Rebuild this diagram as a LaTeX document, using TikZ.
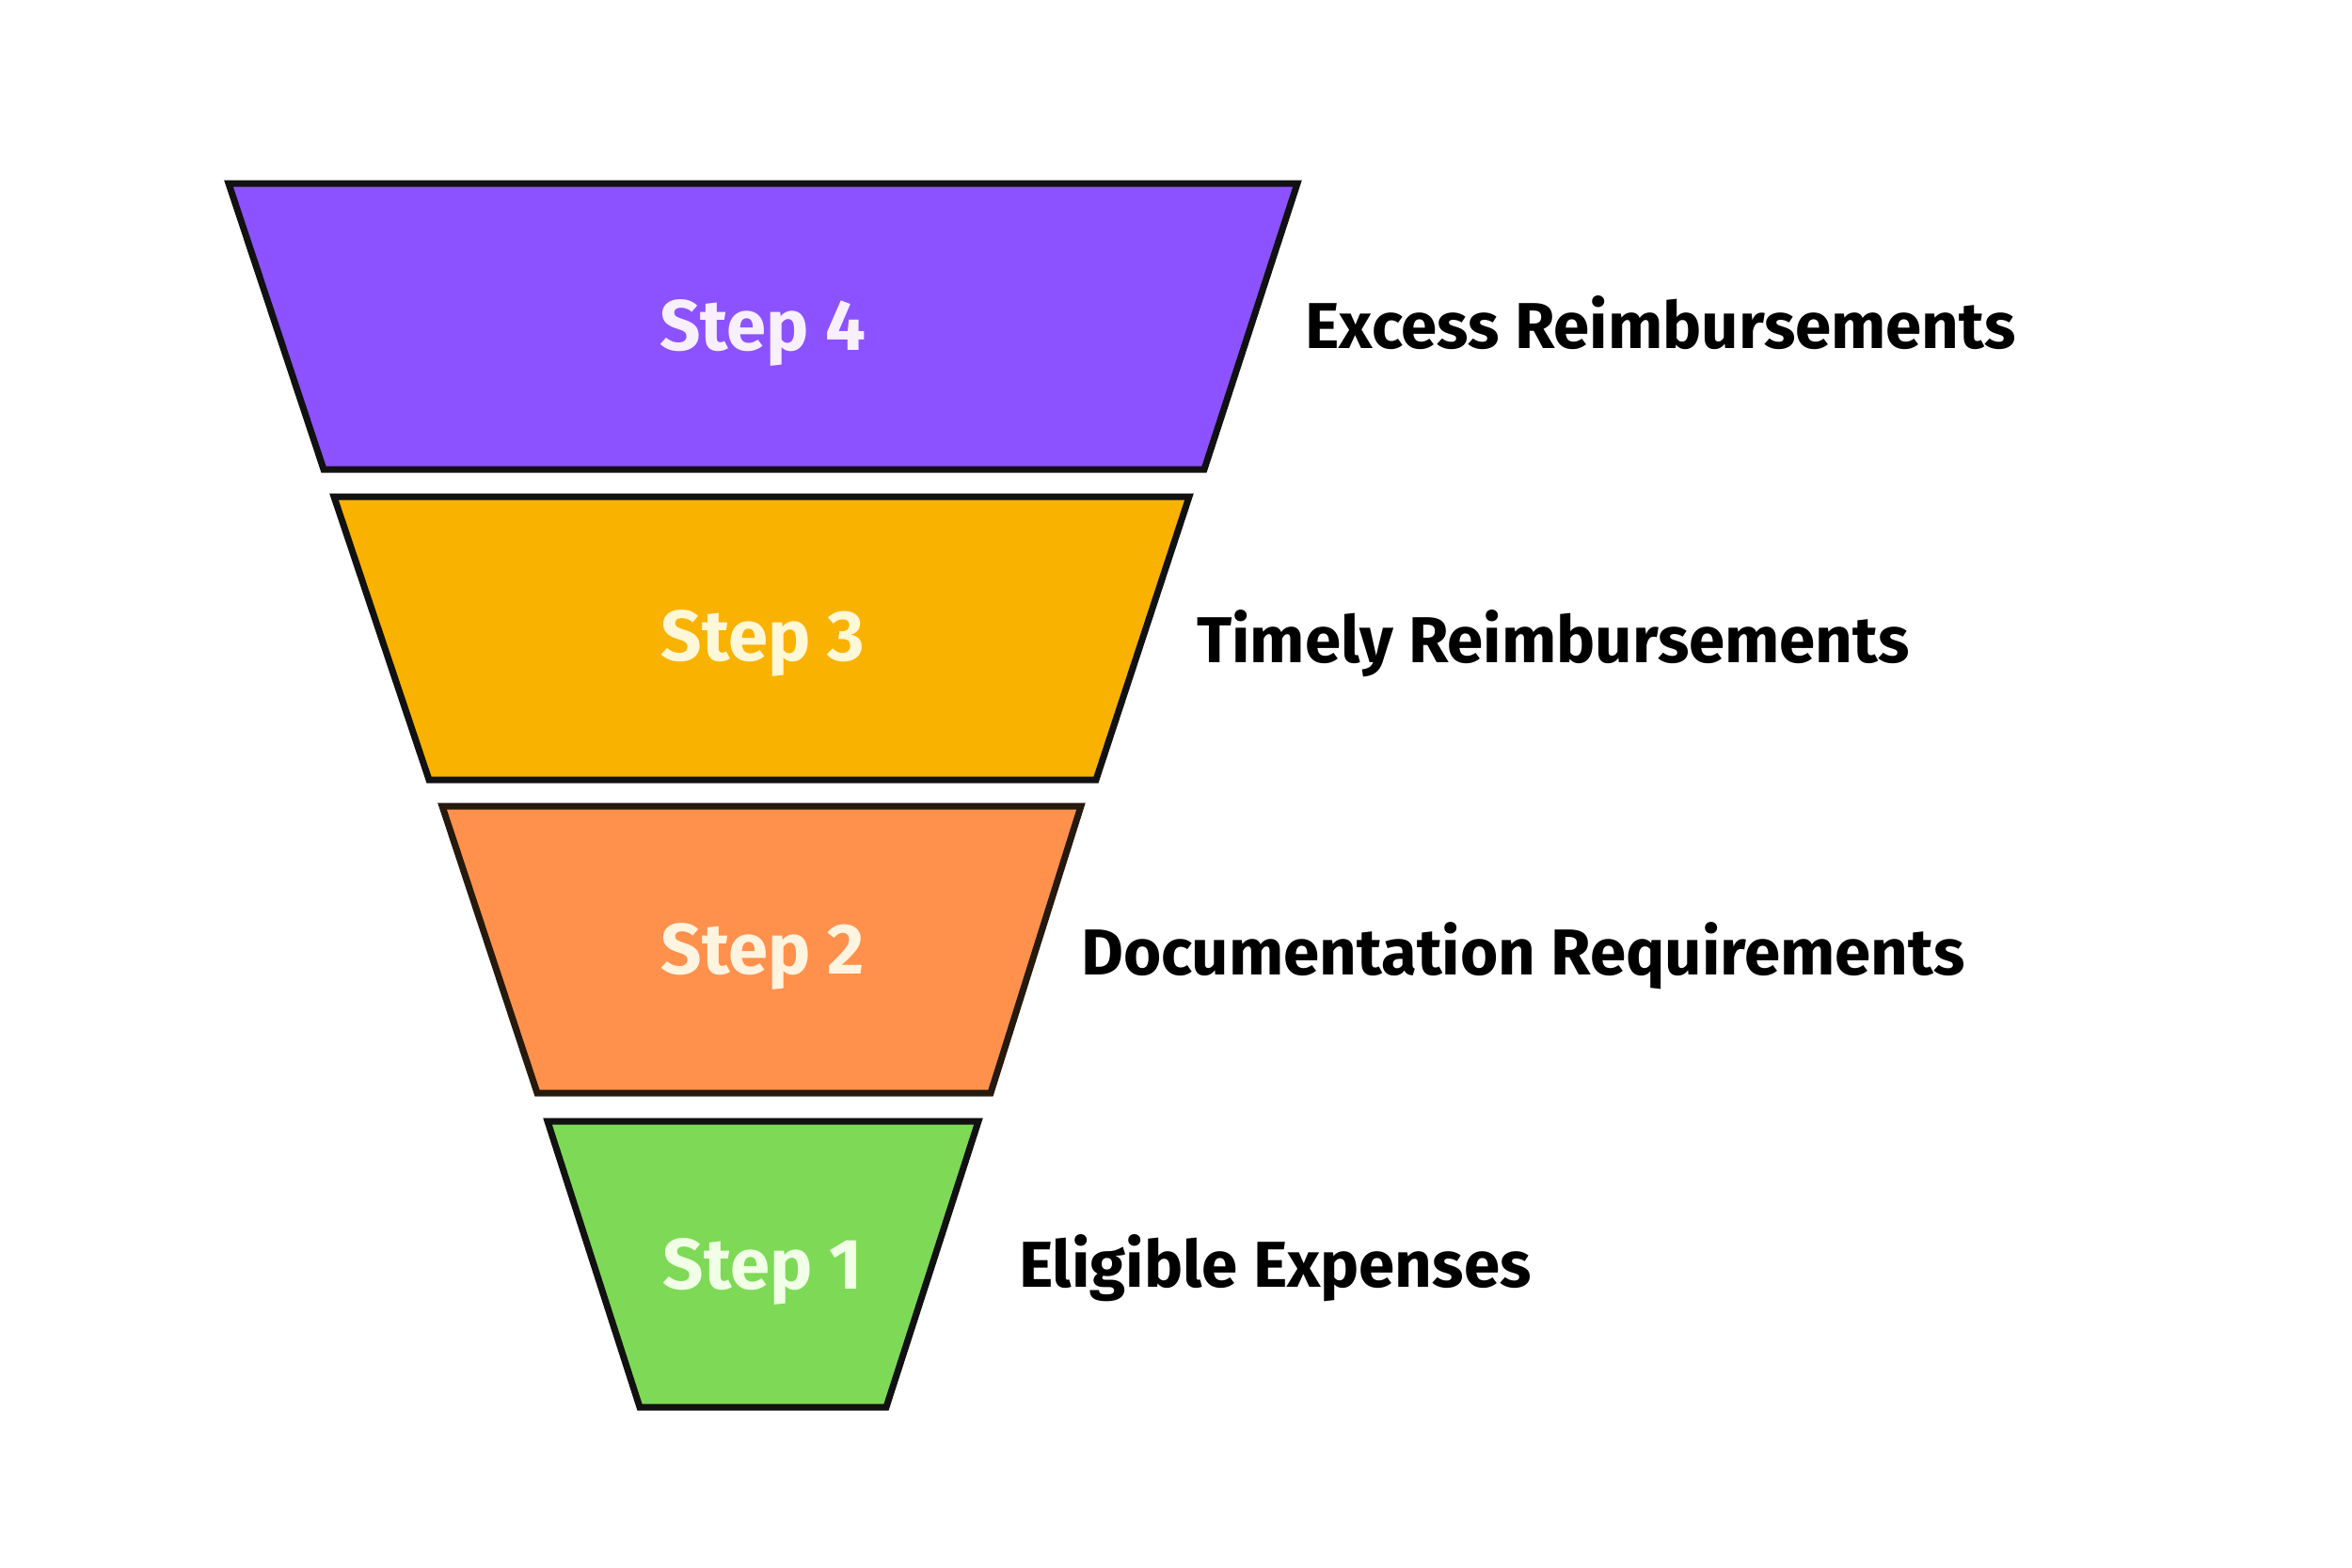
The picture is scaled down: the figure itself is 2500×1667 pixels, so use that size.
\documentclass[tikz,border=0pt]{standalone}
\usepackage{fontspec}
\setmainfont{Fira Sans}
\definecolor{cpurple}{HTML}{8C52FF}
\definecolor{cyellow}{HTML}{FAB200}
\definecolor{corange}{HTML}{FF914D}
\definecolor{cgreen}{HTML}{7ED957}
\definecolor{cborder}{HTML}{111111}
\definecolor{tpurple}{HTML}{F8F0FF}
\definecolor{tyellow}{HTML}{FFF8D8}
\definecolor{torange}{HTML}{FFF4E0}
\definecolor{tgreen}{HTML}{F0FFE6}
\begin{document}
\begin{tikzpicture}[x=1pt,y=-1pt,
  layer/.style={draw=cborder,line width=7pt,line join=miter},
  steptext/.style={anchor=base,text=white,font=\fontsize{76}{80}\selectfont\bfseries,inner sep=0pt},
  labeltext/.style={anchor=base west,text=black,font=\fontsize{69}{74}\selectfont\bfseries,inner sep=0pt}]
\useasboundingbox (0,0) rectangle (2500,1667);
\fill[white] (0,0) rectangle (2500,1667);
% trapezoids
\draw[layer,fill=cpurple] (243,195) -- (1379,195) -- (1280,499) -- (344,499) -- cycle;
\draw[layer,fill=cyellow] (355,528) -- (1264,528) -- (1165,829) -- (456,829) -- cycle;
\draw[layer,fill=corange,draw=black!80!brown] (470,857) -- (1149,857) -- (1053,1162) -- (571,1162) -- cycle;
\draw[layer,fill=cgreen] (582,1192) -- (1040,1192) -- (942,1496) -- (680,1496) -- cycle;
% step texts
\node[steptext,text=tpurple] (s4) at (811,372) {Step 4};
\node[steptext,text=tyellow] (s3) at (811,702) {Step 3};
\node[steptext,text=torange] (s2) at (811,1035) {Step 2};
\node[steptext,text=tgreen] (s1) at (811,1370) {Step 1};
% labels
\node[labeltext] (l4) at (1387,370) {Excess Reimbursements};
\node[labeltext] (l3) at (1272,704) {Timely Reimbursements};
\node[labeltext] (l2) at (1149,1036) {Documentation Requirements};
\node[labeltext] (l1) at (1083,1368) {Eligible Expenses};
\end{tikzpicture}
\end{document}
